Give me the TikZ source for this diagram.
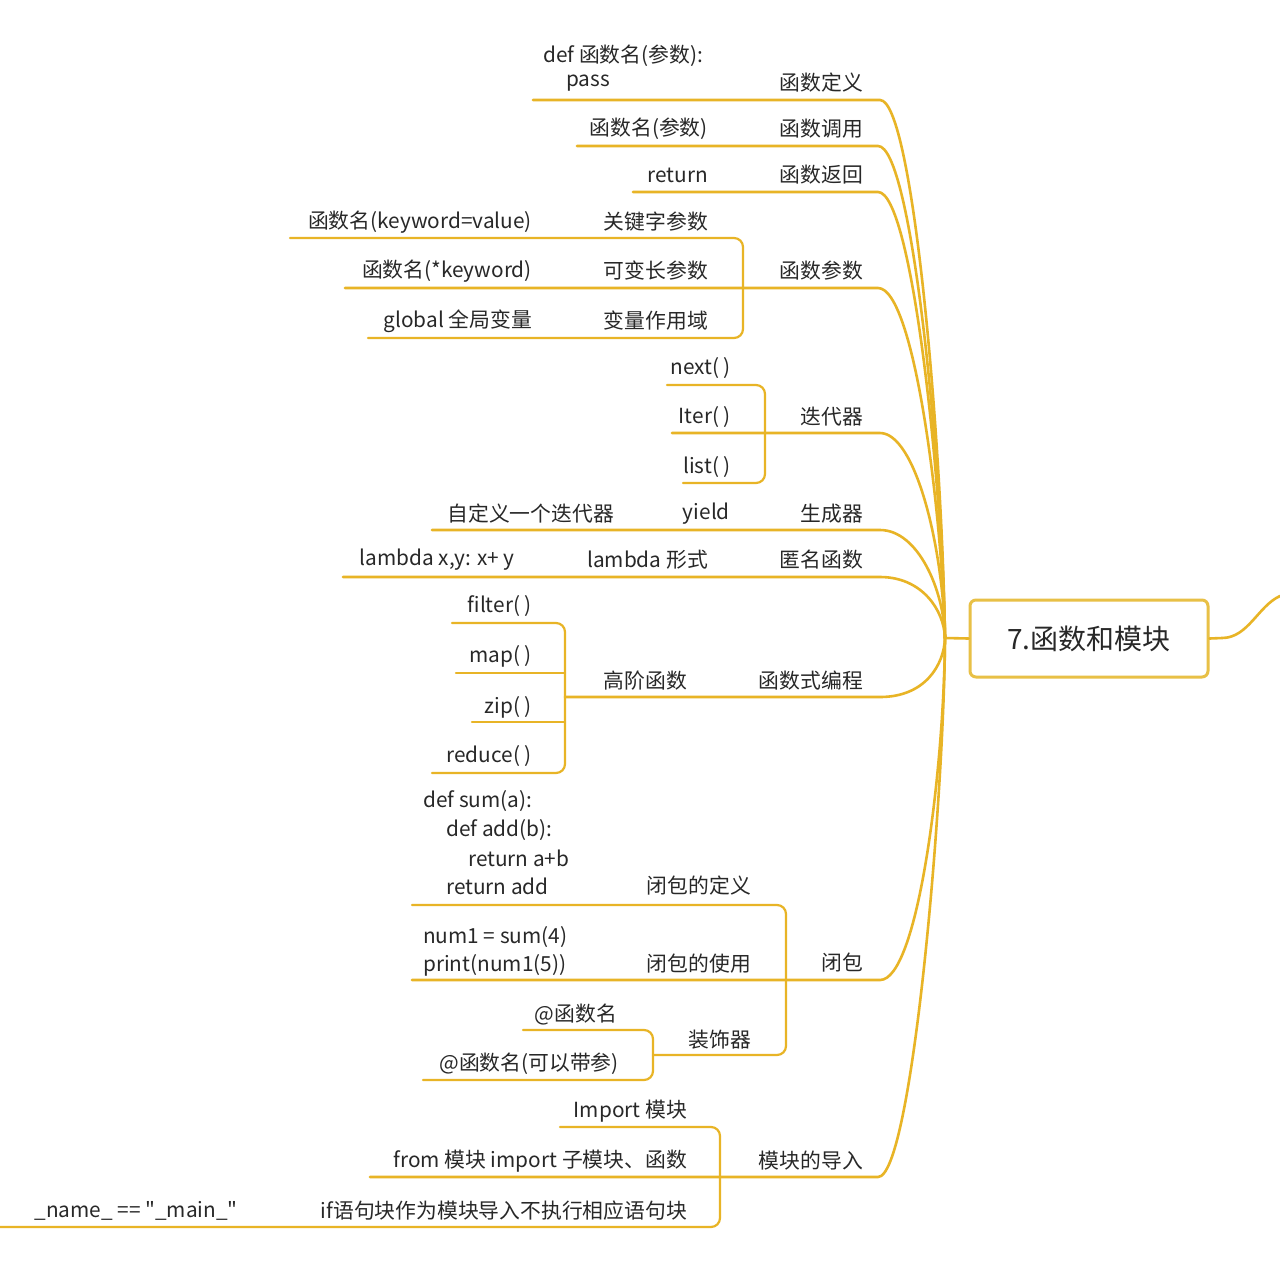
\documentclass[tikz,border=0pt]{standalone}
\usepackage{fontspec}
\setmainfont{Noto Sans CJK SC}
\newfontfamily\plainfont{Noto Sans CJK SC}
\definecolor{gold}{RGB}{232,180,38}
\definecolor{boxgold}{RGB}{232,192,70}
\definecolor{txt}{RGB}{40,40,40}
\tikzset{
  t/.style={inner sep=0pt, text=txt, font=\fontsize{20.8}{24}\selectfont},
  mainline/.style={draw=gold, line width=2.6pt, line cap=round},
  subline/.style={draw=gold, line width=2.2pt, line cap=round, rounded corners=9pt},
}
\begin{document}
\begin{tikzpicture}[x=1pt,y=-1pt]
\useasboundingbox[fill=white] (0,0) rectangle (1280,1270);
\coordinate (hub) at (945,638);

% ---------- root ----------
\node[draw=boxgold, line width=3pt, rounded corners=6pt, fill=white, minimum width=238pt, minimum height=77pt, inner sep=0pt,
      text=txt, font=\fontsize{28}{32}\selectfont] (root) at (1089,638.5) {7.函数和模块};
\draw[mainline] (hub) -- (root.west);
\draw[mainline] (root.east) -- (1222,638) .. controls (1248,638) and (1258,606) .. (1280,596);

% ---------- main branches ----------
\coordinate (e1) at (880,100);
\coordinate (e2) at (878,146);
\coordinate (e3) at (878,192);
\coordinate (e4) at (878,288);
\coordinate (e5) at (880,433);
\coordinate (e6) at (880,530);
\coordinate (e7) at (880,577);
\coordinate (e8) at (880,697);
\coordinate (e9) at (880,980);
\coordinate (e10) at (878,1177);

\draw[mainline] (533,100) -- (e1) .. controls (913,100) and (942,440) .. (hub);
\draw[mainline] (577,146) -- (e2) .. controls (912,146) and (942,460) .. (hub);
\draw[mainline] (633,192) -- (e3) .. controls (912,192) and (942,480) .. (hub);
\draw[mainline] (345,288) -- (e4) .. controls (914,288) and (942,510) .. (hub);
\draw[mainline] (672,433) -- (e5) .. controls (915,433) and (943,545) .. (hub);
\draw[mainline] (432,530) -- (e6) .. controls (918,530) and (944,590) .. (hub);
\draw[mainline] (343,577) -- (e7) .. controls (922,577) and (944,610) .. (hub);
\draw[mainline] (565,697) -- (e8) .. controls (925,697) and (944,665) .. (hub);
\draw[mainline] (412,980) -- (e9) .. controls (918,980) and (944,770) .. (hub);
\draw[mainline] (370,1177) -- (e10) .. controls (912,1177) and (944,800) .. (hub);

% ---------- main labels ----------
\node[t, anchor=east] (m1) at (863,83) {函数定义};
\node[t, anchor=east] (m2) at (863,129) {函数调用};
\node[t, anchor=east] (m3) at (863,175) {函数返回};
\node[t, anchor=east] (m4) at (863,271) {函数参数};
\node[t, anchor=east] (m5) at (863,417) {迭代器};
\node[t, anchor=east] (m6) at (863,514) {生成器};
\node[t, anchor=east] (m7) at (863,560) {匿名函数};
\node[t, anchor=east] (m8) at (863,681) {函数式编程};
\node[t, anchor=east] (m9) at (863,963) {闭包};
\node[t, anchor=east] (m10) at (863,1161) {模块的导入};

% ---------- 函数定义 / 调用 / 返回 ----------
\node[t, anchor=west] (d1) at (543,56) {def 函数名(参数):};
\node[t, anchor=west] (d2) at (566,83) {pass};
\node[t, anchor=east] (c1) at (708,129) {函数名(参数)};
\node[t, anchor=east] (r1) at (708,175) {return};

% ---------- 函数参数 ----------
\draw[subline] (290,238) -- (743,238) -- (743,338) -- (368,338);
\node[t, anchor=east] (p1) at (708,222) {关键字参数};
\node[t, anchor=east] (p2) at (708,271) {可变长参数};
\node[t, anchor=east] (p3) at (708,321) {变量作用域};
\node[t, anchor=east] (p1a) at (532,222) {函数名(keyword=value)};
\node[t, anchor=east] (p2a) at (532,271) {函数名(*keyword)};
\node[t, anchor=east] (p3a) at (532,321) {global 全局变量};

% ---------- 迭代器 ----------
\draw[subline] (667,385) -- (765,385) -- (765,483) -- (683,483);
\node[t, anchor=east] (i1) at (731,368) {next( )};
\node[t, anchor=east] (i2) at (731,417) {Iter( )};
\node[t, anchor=east] (i3) at (731,467) {list( )};

% ---------- 生成器 / 匿名函数 ----------
\node[t, anchor=east] (g1) at (730,514) {yield};
\node[t, anchor=east] (g2) at (614,514) {自定义一个迭代器};
\node[t, anchor=east] (l1) at (708,560) {lambda 形式};
\node[t, anchor=east] (l2) at (515,560) {lambda x,y: x+ y};

% ---------- 函数式编程 ----------
\draw[subline] (452,623) -- (565,623) -- (565,773) -- (432,773);
\draw[subline] (456,673) -- (565,673);
\draw[subline] (472,722) -- (565,722);
\node[t, anchor=east] (f0) at (687,681) {高阶函数};
\node[t, anchor=east] (f1) at (532,606) {filter( )};
\node[t, anchor=east] (f2) at (532,656) {map( )};
\node[t, anchor=east] (f3) at (532,707) {zip( )};
\node[t, anchor=east] (f4) at (532,756) {reduce( )};

% ---------- 闭包 ----------
\draw[subline] (412,905) -- (786,905) -- (786,1055) -- (653,1055);
\draw[subline] (523,1030) -- (653,1030) -- (653,1080) -- (423,1080);
\node[t, anchor=east] (b1) at (751,886) {闭包的定义};
\node[t, anchor=east] (b2) at (751,964) {闭包的使用};
\node[t, anchor=east] (b3) at (751,1040) {装饰器};
\node[t, anchor=west] (k1) at (423,801) {def sum(a):};
\node[t, anchor=west] (k2) at (446,830) {def add(b):};
\node[t, anchor=west] (k3) at (468,858) {return a+b};
\node[t, anchor=west] (k4) at (446,886) {return add};
\node[t, anchor=west] (u1) at (423,937) {num1 = sum(4)};
\node[t, anchor=west] (u2) at (423,965) {print(num1(5))};
\node[t, anchor=east] (z1) at (617,1015) {@函数名};
\node[t, anchor=east] (z2) at (619,1064) {@函数名(可以带参)};

% ---------- 模块的导入 ----------
\draw[subline] (560,1127) -- (720,1127) -- (720,1227) -- (0,1227);
\node[t, anchor=east] (o1) at (687,1111) {Import 模块};
\node[t, anchor=east] (o2) at (687,1161) {from 模块 import 子模块、函数};
\node[t, anchor=east] (o3) at (687,1211) {if语句块作为模块导入不执行相应语句块};
\node[t, anchor=east] (o4) at (238,1211) {\plainfont \_name\_ == "\_main\_"};
\end{tikzpicture}
\end{document}
